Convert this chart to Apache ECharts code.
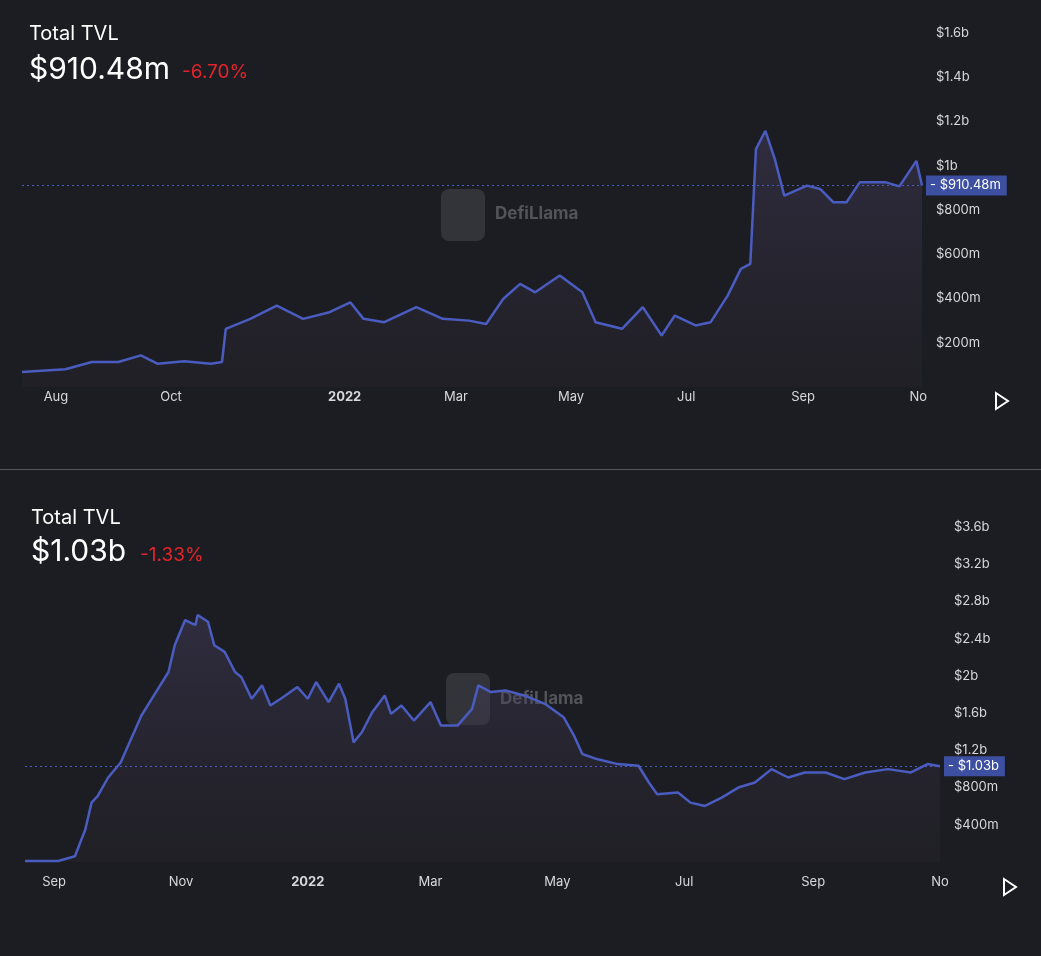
<!DOCTYPE html>
<html><head><meta charset="utf-8">
<script src="https://cdn.jsdelivr.net/npm/echarts@6/dist/echarts.min.js"></script>
<style>html,body{margin:0;background:#1c1d22}#c{width:1041px;height:956px}</style>
</head><body><div id="c"></div>
<script>
var topDates = ['2021-07-14','2021-08-06','2021-08-20','2021-09-03','2021-09-15','2021-09-24','2021-10-08','2021-10-22','2021-10-28','2021-10-30','2021-11-12','2021-11-26','2021-12-10','2021-12-24','2022-01-04','2022-01-11','2022-01-22','2022-02-08','2022-02-22','2022-03-08','2022-03-17','2022-03-26','2022-04-04','2022-04-12','2022-04-25','2022-05-07','2022-05-14','2022-05-28','2022-06-08','2022-06-18','2022-06-25','2022-07-06','2022-07-14','2022-07-23','2022-07-30','2022-08-04','2022-08-07','2022-08-12','2022-08-17','2022-08-22','2022-09-03','2022-09-10','2022-09-17','2022-09-24','2022-10-01','2022-10-15','2022-10-22','2022-10-31','2022-11-03'];
var topValues = [68,80,113,113,143,105,116,105,113,263,308,368,308,338,383,308,293,361,308,300,285,398,466,428,504,428,293,263,361,233,323,278,293,413,534,556,1075,1158,1030,865,910,895,835,835,925,925,907,1022,910.48];
var botDates = ['2021-08-18','2021-09-03','2021-09-11','2021-09-16','2021-09-19','2021-09-22','2021-09-27','2021-10-03','2021-10-08','2021-10-13','2021-10-19','2021-10-26','2021-10-29','2021-11-03','2021-11-08','2021-11-09','2021-11-14','2021-11-17','2021-11-22','2021-11-27','2021-11-30','2021-12-05','2021-12-10','2021-12-14','2021-12-19','2021-12-27','2022-01-01','2022-01-05','2022-01-11','2022-01-16','2022-01-19','2022-01-23','2022-01-27','2022-02-01','2022-02-07','2022-02-10','2022-02-15','2022-02-21','2022-03-01','2022-03-06','2022-03-14','2022-03-21','2022-03-24','2022-03-30','2022-04-06','2022-04-15','2022-04-25','2022-05-04','2022-05-09','2022-05-13','2022-05-20','2022-05-30','2022-06-09','2022-06-14','2022-06-18','2022-06-28','2022-07-04','2022-07-11','2022-07-19','2022-07-27','2022-08-04','2022-08-12','2022-08-20','2022-08-28','2022-09-07','2022-09-16','2022-09-26','2022-10-07','2022-10-18','2022-10-26','2022-11-01'];
var botValues = [10,10,61,350,638,710,908,1070,1322,1574,1790,2042,2330,2600,2546,2654,2582,2330,2258,2042,1988,1754,1898,1682,1754,1880,1754,1934,1718,1916,1754,1286,1394,1610,1790,1592,1682,1520,1718,1466,1466,1646,1898,1826,1844,1790,1700,1556,1358,1160,1106,1052,1034,854,728,746,638,602,692,800,854,998,908,962,962,890,962,998,962,1052,1030];
var topTicks = [0,200,400,600,800,1000,1200,1400,1600];
var botTicks = [0,400,800,1200,1600,2000,2400,2800,3200,3600];
var topXTicks = ['2021-08-01','2021-10-01','2022-01-01','2022-03-01','2022-05-01','2022-07-01','2022-09-01','2022-11-01'];
var botXTicks = ['2021-09-01','2021-11-01','2022-01-01','2022-03-01','2022-05-01','2022-07-01','2022-09-01','2022-11-01'];
var monthNames = ['Jan','Feb','Mar','Apr','May','Jun','Jul','Aug','Sep','Oct','Nov','Dec'];

function ms(s){return Date.UTC(+s.slice(0,4),+s.slice(5,7)-1,+s.slice(8,10));}
function pair(d,v){return d.map(function(x,i){return [ms(x),v[i]];});}
function fmtM(v){ if(v===0) return ''; return v>=1000 ? '$'+(v/1000)+'b' : '$'+v+'m'; }
function xAx(idx,min,max,ticks,margin){return {type:'value',gridIndex:idx,min:ms(min),max:ms(max),
  axisLine:{show:false},axisTick:{show:false},splitLine:{show:false},
  axisLabel:{color:'#d8d8dc',fontSize:13,fontFamily:'Inter',margin:margin,showMinLabel:true,showMaxLabel:true,
    customValues:ticks.map(ms),
    formatter:function(v){var d=new Date(v);var m=d.getUTCMonth(),y=d.getUTCFullYear();if(m===10&&y===2022)return 'No';return m===0?'{y|'+y+'}':monthNames[m];},
    rich:{y:{fontWeight:'bold',color:'#d8d8dc',fontSize:13,fontFamily:'Inter'}}}};}
function yAx(idx,ticks){return {type:'value',gridIndex:idx,position:'right',min:ticks[0],max:ticks[ticks.length-1],interval:ticks[1]-ticks[0],
  axisLine:{show:false},axisTick:{show:false},splitLine:{show:false},
  axisLabel:{color:'#d8d8dc',fontSize:13,fontFamily:'Inter',margin:14,formatter:fmtM}};}
function ser(idx,data,last,lbl){return {type:'line',xAxisIndex:idx,yAxisIndex:idx,data:data,showSymbol:false,smooth:false,
  lineStyle:{color:'#4a5cc0',width:2.5},
  areaStyle:{color:new echarts.graphic.LinearGradient(0,0,0,1,[{offset:0,color:'rgba(80,70,110,0.55)'},{offset:1,color:'rgba(45,40,50,0.35)'}])},
  markLine:{symbol:'none',silent:true,data:[{yAxis:last}],lineStyle:{color:'#4a5cc0',type:[2,3],width:1},
    label:{position:'end',formatter:'- '+lbl,color:'#fff',backgroundColor:'#3c4fa0',padding:[4,6,3,4],fontSize:13,fontFamily:'Inter',distance:4}}};}

var chart = echarts.init(document.getElementById('c'));
chart.setOption({
  backgroundColor:'#1c1d22',animation:false,
  grid:[{left:22,right:119,top:33,height:354},{left:25,right:101,top:527,height:335}],
  xAxis:[xAx(0,'2021-07-14','2022-11-03',topXTicks,4),xAx(1,'2021-08-18','2022-11-01',botXTicks,14)],
  yAxis:[yAx(0,topTicks),yAx(1,botTicks)],
  series:[ser(0,pair(topDates,topValues),910.48,'$910.48m'),ser(1,pair(botDates,botValues),1030,'$1.03b')],
  graphic:[
    {type:'text',left:29,top:24,style:{text:'Total TVL',fill:'#fff',font:'20px Inter'}},
    {type:'text',left:29,top:55,style:{text:'$910.48m',fill:'#fff',font:'30px Inter'}},
    {type:'text',left:182,top:63,style:{text:'-6.70%',fill:'#e0242a',font:'19px Inter'}},
    {type:'text',left:31,top:508,style:{text:'Total TVL',fill:'#fff',font:'20px Inter'}},
    {type:'text',left:31,top:537,style:{text:'$1.03b',fill:'#fff',font:'30px Inter'}},
    {type:'text',left:140,top:546,style:{text:'-1.33%',fill:'#e0242a',font:'19px Inter'}},
    {type:'rect',shape:{x:0,y:469,width:1041,height:1},style:{fill:'#55565c'}},
    {type:'polygon',shape:{points:[[996,393],[996,409],[1008,401]]},style:{fill:'none',stroke:'#fff',lineWidth:2}},
    {type:'polygon',shape:{points:[[1004,879],[1004,895],[1016,887]]},style:{fill:'none',stroke:'#fff',lineWidth:2}},
    {type:'rect',shape:{x:441,y:189,width:44,height:52,r:8},style:{fill:'rgba(120,120,130,0.25)'}},
    {type:'text',left:495,top:205,style:{text:'DefiLlama',fill:'rgba(150,150,160,0.45)',font:'bold 17px Inter'}},
    {type:'rect',shape:{x:446,y:673,width:44,height:52,r:8},style:{fill:'rgba(120,120,130,0.25)'}},
    {type:'text',left:500,top:690,style:{text:'DefiLlama',fill:'rgba(150,150,160,0.45)',font:'bold 17px Inter'}}
  ]
});
</script></body></html>
